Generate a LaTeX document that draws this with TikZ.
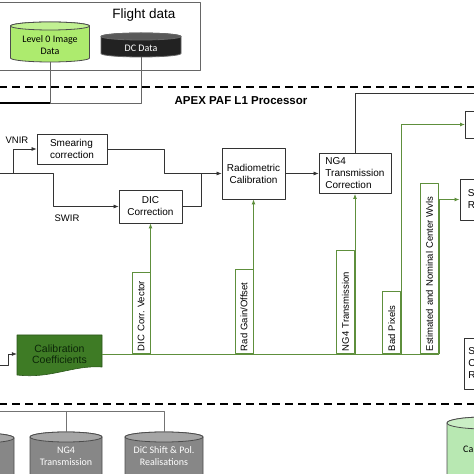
\documentclass[tikz,border=0pt]{standalone}
\usepackage{fontspec}
\setmainfont{Liberation Sans}
\newfontfamily\calibri{Carlito}
\usetikzlibrary{arrows.meta,positioning}
\definecolor{lgreen}{HTML}{5E8F3C}
\definecolor{limefill}{HTML}{ADEB6E}
\definecolor{ccfill}{HTML}{3E7B25}
\definecolor{cctext}{HTML}{0C2608}
\definecolor{drumgray}{HTML}{878787}
\definecolor{drumdark}{HTML}{222222}
\definecolor{mintfill}{HTML}{B8E8B2}
% drum: name, cx, top, bottom, rx, ry, fill, border
\newcommand{\drum}[8]{%
  \filldraw[fill=#7,draw=#8,line width=0.8pt]({#2-#5},{#3-#6})--({#2-#5},{#4+#6})
    arc[start angle=180,end angle=360,x radius=#5,y radius=#6]--({#2+#5},{#3-#6})
    arc[start angle=0,end angle=180,x radius=#5,y radius=#6]--cycle;
  \filldraw[fill=#7!75!white,draw=#8,line width=0.8pt](#2,{#3-#6}) ellipse[x radius=#5,y radius=#6];
  \coordinate (#1-top) at (#2,#3);
  \coordinate (#1-bot) at (#2,#4);
}
\tikzset{
  proc/.style={draw=black!80,line width=0.8pt,fill=white,inner sep=3pt,
    font=\fontsize{10}{12}\selectfont},
  flow/.style={draw=black!80,line width=0.7pt},
  gflow/.style={draw=lgreen,line width=0.9pt},
  tag/.style={draw=lgreen,fill=white,line width=0.8pt,rotate=90,anchor=south west,
    minimum height=18,inner xsep=2.5pt,inner ysep=0pt,align=left,
    font=\fontsize{9.5}{10}\selectfont},
  drumtext/.style={align=center,inner sep=0pt,font=\calibri\fontsize{10}{12}\selectfont},
  lbl/.style={inner sep=0pt,font=\fontsize{9.5}{11}\selectfont},
  sep/.style={line width=2pt,dash pattern=on 8pt off 5pt,dash phase=1pt},
}
\frenchspacing
\begin{document}
\begin{tikzpicture}[x=1pt,y=1pt,>={Latex[length=5pt,width=4pt]},line join=round]
\useasboundingbox (0,0) rectangle (474,474);
\clip (0,0) rectangle (474,474);

% flight data
\draw[draw=black!60,line width=0.8pt](-2,404) rectangle (200,472);
\node[font=\fontsize{13.5}{15}\selectfont] (fdata) at (144,459) {Flight data};
\drum{lvl0}{50}{452}{412}{39.5}{4}{limefill}{black!70}
\node[drumtext] (lvl0txt) at (50,429) {Level 0 Image\\Data};
\drum{dc}{141}{441}{417}{40}{3.5}{drumdark}{black!60}
\node[drumtext,text=white] (dctxt) at (141,426) {DC Data};

\coordinate (rawin) at (-1,371);
\draw[black!60,line width=0.8pt](dc-bot) |- (lvl0-bot |- rawin);
\draw[black!60,line width=0.8pt](lvl0-bot) -- (lvl0-bot |- rawin);
\draw[black,line width=1.2pt](lvl0-bot |- rawin) -- (rawin);

\draw[sep](0,387)--(474,387);
\draw[sep](0,70)--(474,70);

% processor
\node[font=\bfseries\fontsize{11.5}{13}\selectfont] (apex) at (241,373) {APEX PAF L1 Processor};

\node[proc,minimum width=70,minimum height=30,align=left] (smear) at (72,325) {Smearing\\correction};
\node[proc,minimum width=63,minimum height=33,align=center] (dic) at (150.5,267.5) {DIC\\Correction};
\node[proc,minimum width=63,minimum height=51,align=center] (radcal) at (253.5,300.5) {Radiometric\\Calibration};
\node[proc,minimum width=72,minimum height=40,align=left] (ng4) at (355,300.5) {NG4\\Transmission\\Correction};
\node[proc,anchor=west,minimum width=30,minimum height=27] (flag) at (465,349.5) {};
\node[proc,anchor=west,minimum width=40,minimum height=41,align=left,text width=24] (satrec) at (459.5,274.5) {Sa\\R};
\node[proc,anchor=west,minimum width=40,minimum height=51,align=left,text width=32] (scr) at (464,110.5) {S\\C\\R};

\node[lbl] (vnir) at (17,334) {VNIR};
\node[lbl] (swir) at (67,256) {SWIR};

\coordinate (specin) at (-1,300.5);
\coordinate (split) at (13,300.5);
\coordinate (swirbend) at (53,300.5);
\coordinate (merge) at (201,300.5);
\coordinate (l1out) at (476,381);
\draw[flow,->](specin) -- (swirbend) |- (dic.west);
\draw[flow,->](split) |- (smear.west);
\draw[flow,->](smear.east) -- ++(57,0) |- (radcal.west);
\draw[flow](dic.east) -| (merge);
\draw[flow,->](radcal.east) -- (ng4.west);
\draw[flow](ng4.north) |- (l1out);

% calibration coefficients
\filldraw[fill=ccfill,draw=ccfill!70!black,line width=0.6pt](17,139)--(102,139)--(102,107)
  .. controls (72,109) and (52,95) .. (17,99)--cycle;
\node[minimum width=85,minimum height=40,inner sep=0pt,align=center,text=cctext,
  font=\fontsize{10.5}{11.5}\selectfont] (cc) at (59.5,120) {Calibration\\Coefficients};
\coordinate (ccin) at (-1,109);
\draw[flow,->](ccin) -- ++(9,0) |- (cc.west);

\coordinate (busend) at (439,120);
\coordinate (badx) at (401,120);
\draw[gflow](cc.east) -- (busend);
\node[tag,text width=76] (dicv) at (dic.south |- busend) {DIC Corr. Vector};
\node[tag,text width=79] (radv) at (radcal.south |- busend) {Rad Gain/Offset};
\node[tag,text width=98] (ng4v) at (ng4.south |- busend) {NG4 Transmission};
\node[tag,text width=57] (badv) at (badx) {Bad Pixels};
\node[tag,text width=165] (wvlv) at (busend) {Estimated and Nominal Center Wvls};
\draw[gflow,->](dicv.south west) -- (dic.south);
\draw[gflow,->](radv.south west) -- (radcal.south);
\draw[gflow,->](ng4v.south west) -- (ng4.south);
\draw[gflow,->](badv.south west) |- (flag.west);
\draw[gflow,->](wvlv.south west) |- (satrec.west);

% auxiliary data
\coordinate (auxin) at (-1,63);
\drum{leftd}{-20}{41}{-6}{34}{5}{drumgray}{black!70}
\drum{ng4d}{66}{42}{-6}{36}{5}{drumgray}{black!70}
\node[drumtext,text=white] (ng4dtxt) at (66,18) {NG4\\Transmission};
\drum{dicd}{164}{42}{-6}{39}{5}{drumgray}{black!70}
\node[drumtext,text=white] (dicdtxt) at (164,18) {DiC Shift \& Pol.\\Realisations};
\draw[black!55,line width=0.8pt](auxin) -| (dicd-top);
\draw[black!55,line width=0.8pt](ng4d-top |- auxin) -- (ng4d-top);
\drum{calbd}{485}{57}{-6}{38}{6}{mintfill}{black!70}
\node[drumtext,anchor=west] (calbtxt) at (463,25) {Ca};
\end{tikzpicture}
\end{document}
